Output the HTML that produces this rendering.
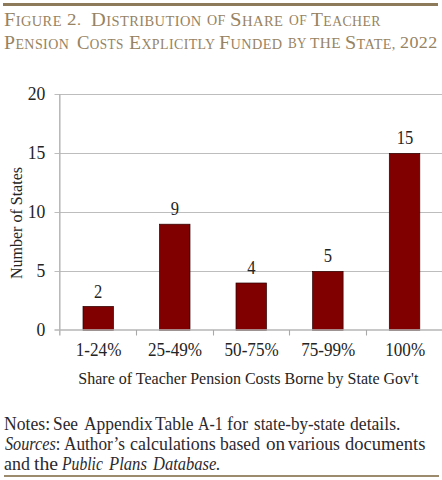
<!DOCTYPE html>
<html><head><meta charset="utf-8">
<style>
html,body{margin:0;padding:0;background:#fff;}
body{width:442px;height:480px;position:relative;overflow:hidden;font-family:"Liberation Serif",serif;}
.topline{position:absolute;left:3px;top:3px;width:435px;height:3px;background:#8c7a5b;}
.botline{position:absolute;left:4px;top:475px;width:435px;height:2px;background:#9d8b6d;}
.w{position:absolute;color:#978362;white-space:nowrap;line-height:20px;transform-origin:0 0;letter-spacing:0.4px;}
.w .c{font-size:19.5px;}
.w .s{font-size:13.8px;}
.w .d{font-size:16.5px;}
.n{position:absolute;color:#2c292e;font-size:18px;white-space:nowrap;line-height:20px;transform-origin:0 0;}
svg{position:absolute;left:0;top:0;}
svg text{font-family:"Liberation Serif",serif;fill:#242424;}
</style></head>
<body>
<div class="topline"></div>
<!--TITLE-->
<span class="w" style="top:10px;left:4.12px;transform:scaleX(1.0444)"><span class="c">F</span><span class="s">IGURE</span></span>
<span class="w" style="top:10px;left:66.74px;transform:scaleX(1.1507)"><span class="d">2</span><span class="s">.</span></span>
<span class="w" style="top:10px;left:91.12px;transform:scaleX(1.0490)"><span class="c">D</span><span class="s">ISTRIBUTION</span></span>
<span class="w" style="top:10px;left:206.50px;transform:scaleX(1.0190)"><span class="s">OF</span></span>
<span class="w" style="top:10px;left:230.10px;transform:scaleX(1.0602)"><span class="c">S</span><span class="s">HARE</span></span>
<span class="w" style="top:10px;left:289.12px;transform:scaleX(0.9794)"><span class="s">OF</span></span>
<span class="w" style="top:10px;left:311.00px;transform:scaleX(1.0002)"><span class="c">T</span><span class="s">EACHER</span></span>
<span class="w" style="top:33px;left:4.12px;transform:scaleX(1.0147)"><span class="c">P</span><span class="s">ENSION</span></span>
<span class="w" style="top:33px;left:76.76px;transform:scaleX(0.9577)"><span class="c">C</span><span class="s">OSTS</span></span>
<span class="w" style="top:33px;left:128.62px;transform:scaleX(1.0086)"><span class="c">E</span><span class="s">XPLICITLY</span></span>
<span class="w" style="top:33px;left:218.88px;transform:scaleX(1.0332)"><span class="c">F</span><span class="s">UNDED</span></span>
<span class="w" style="top:33px;left:288.00px;transform:scaleX(0.9500)"><span class="s">BY</span></span>
<span class="w" style="top:33px;left:310.00px;transform:scaleX(1.1113)"><span class="s">THE</span></span>
<span class="w" style="top:33px;left:345.48px;transform:scaleX(1.0307)"><span class="c">S</span><span class="s">TATE,</span></span>
<span class="w" style="top:33px;left:400.12px;transform:scaleX(1.0906)"><span class="d">2022</span></span>
<!--/TITLE-->

<svg width="442" height="480" viewBox="0 0 442 480">
  <g stroke="#bdbdbd" stroke-width="1.1">
    <line x1="54.5" y1="94.5" x2="442" y2="94.5"/>
    <line x1="54.5" y1="153.5" x2="442" y2="153.5"/>
    <line x1="54.5" y1="212.5" x2="442" y2="212.5"/>
    <line x1="54.5" y1="271.5" x2="442" y2="271.5"/>
  </g>
  <g fill="#800000" stroke="#2a0000" stroke-width="0.7">
    <rect x="83" y="306.4" width="30.5" height="24"/>
    <rect x="159.5" y="224.2" width="30.5" height="106.2"/>
    <rect x="236" y="283" width="30.5" height="47.4"/>
    <rect x="312.6" y="271.4" width="30.5" height="59"/>
    <rect x="389.3" y="153.4" width="30.5" height="177"/>
  </g>
  <g stroke="#b6b6b6" stroke-width="1.5">
    <line x1="54.5" y1="330" x2="442" y2="330"/>
    <line x1="59.8" y1="94" x2="59.8" y2="335.5"/>
  </g>
  <g stroke="#a9a9a9" stroke-width="1.1">
    <line x1="136.5" y1="330" x2="136.5" y2="335.5"/>
    <line x1="213.5" y1="330" x2="213.5" y2="335.5"/>
    <line x1="289.5" y1="330" x2="289.5" y2="335.5"/>
    <line x1="366.5" y1="330" x2="366.5" y2="335.5"/>
  </g>
  <text transform="translate(45.3,100.3) scale(0.97,1)" font-size="18.2" text-anchor="end">20</text>
  <text transform="translate(45.3,159.3) scale(0.97,1)" font-size="18.2" text-anchor="end">15</text>
  <text transform="translate(45.3,218.3) scale(0.97,1)" font-size="18.2" text-anchor="end">10</text>
  <text transform="translate(45.3,277.3) scale(0.97,1)" font-size="18.2" text-anchor="end">5</text>
  <text transform="translate(45.3,336.1) scale(0.97,1)" font-size="18.2" text-anchor="end">0</text>
  <text transform="translate(98.2,297.6) scale(0.92,1)" font-size="18" text-anchor="middle">2</text>
  <text transform="translate(174.8,214.6) scale(0.92,1)" font-size="18" text-anchor="middle">9</text>
  <text transform="translate(251.4,273.6) scale(0.92,1)" font-size="18" text-anchor="middle">4</text>
  <text transform="translate(328,262.1) scale(0.92,1)" font-size="18" text-anchor="middle">5</text>
  <text transform="translate(405,144.1) scale(0.92,1)" font-size="18" text-anchor="middle">15</text>
  <text transform="translate(98.6,355.8) scale(0.91,1)" font-size="18.8" text-anchor="middle">1-24%</text>
  <text transform="translate(175,355.8) scale(0.91,1)" font-size="18.8" text-anchor="middle">25-49%</text>
  <text transform="translate(251.6,355.8) scale(0.91,1)" font-size="18.8" text-anchor="middle">50-75%</text>
  <text transform="translate(328.2,355.8) scale(0.91,1)" font-size="18.8" text-anchor="middle">75-99%</text>
  <text transform="translate(405.2,355.8) scale(0.91,1)" font-size="18.8" text-anchor="middle">100%</text>
  <text x="248.4" y="383.6" font-size="16" text-anchor="middle">Share of Teacher Pension Costs Borne by State Gov't</text>
  <text transform="translate(22,223) rotate(-90)" font-size="16" text-anchor="middle">Number of States</text>
</svg>

<!--NOTES-->
<span class="n" style="top:414.0px;left:4.28px;transform:scaleX(0.9800)">Notes:</span>
<span class="n" style="top:414.0px;left:53.04px;transform:scaleX(0.9625)">See</span>
<span class="n" style="top:414.0px;left:83.56px;transform:scaleX(0.9694)">Appendix</span>
<span class="n" style="top:414.0px;left:154.94px;transform:scaleX(0.9726)">Table</span>
<span class="n" style="top:414.0px;left:197.94px;transform:scaleX(0.8814)">A-1</span>
<span class="n" style="top:414.0px;left:227.44px;transform:scaleX(1.0025)">for</span>
<span class="n" style="top:414.0px;left:253.56px;transform:scaleX(0.9466)">state-by-state</span>
<span class="n" style="top:414.0px;left:350.28px;transform:scaleX(0.9786)">details.</span>
<span class="n" style="top:434.0px;left:4.50px;transform:scaleX(0.9013)"><i>Sources</i>:</span>
<span class="n" style="top:434.0px;left:64.00px;transform:scaleX(0.9571)">Author’s</span>
<span class="n" style="top:434.0px;left:129.78px;transform:scaleX(0.9981)">calculations</span>
<span class="n" style="top:434.0px;left:219.94px;transform:scaleX(0.9733)">based</span>
<span class="n" style="top:434.0px;left:265.50px;transform:scaleX(1.0649)">on</span>
<span class="n" style="top:434.0px;left:288.28px;transform:scaleX(0.9794)">various</span>
<span class="n" style="top:434.0px;left:345.06px;transform:scaleX(1.0306)">documents</span>
<span class="n" style="top:454.0px;left:3.78px;transform:scaleX(0.9952)">and</span>
<span class="n" style="top:454.0px;left:34.22px;transform:scaleX(1.0974)">the</span>
<span class="n" style="top:454.0px;left:62.22px;transform:scaleX(0.8704)"><i>Public</i></span>
<span class="n" style="top:454.0px;left:108.50px;transform:scaleX(0.9244)"><i>Plans</i></span>
<span class="n" style="top:454.0px;left:153.06px;transform:scaleX(0.9177)"><i>Database.</i></span>
<!--/NOTES-->
<div class="botline"></div>
</body></html>
